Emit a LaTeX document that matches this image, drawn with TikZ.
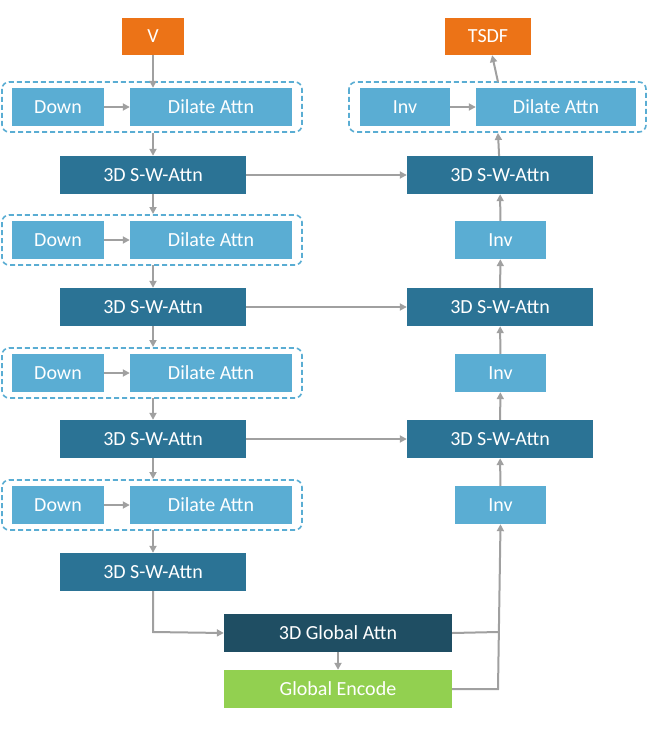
\documentclass[tikz,border=0pt]{standalone}
\usepackage{fontspec}
\setmainfont{Carlito}
\usetikzlibrary{arrows.meta,positioning}
\definecolor{org}{HTML}{EC7317}
\definecolor{lb}{HTML}{5AADD3}
\definecolor{dk}{HTML}{2B7395}
\definecolor{gd}{HTML}{1F4E63}
\definecolor{gr}{HTML}{92D050}
\definecolor{ar}{HTML}{A0A0A0}
\begin{document}
\begin{tikzpicture}[x=1pt,y=-1pt,
 bx/.style={draw=none,text=white,inner sep=0pt,font=\fontsize{20}{22}\selectfont},
 grp/.style={draw=lb,dashed,line width=1.6pt,rounded corners=7pt,dash pattern=on 5pt off 3pt},
 a/.style={draw=ar,line width=2pt,-{Triangle[length=7pt,width=7pt]}},
 l/.style={draw=ar,line width=2pt}]
\useasboundingbox (0,0) rectangle (654,733);
\newcommand{\bxat}[7]{\node[bx,fill=#6,minimum width=#3-#1,minimum height=#4-#2] (#5) at ({(#1+#3)/2},{(#2+#4)/2}) {#7};}
\bxat{122}{18}{184}{55}{V}{org}{V}
\bxat{445}{18}{531}{55}{T}{org}{TSDF}
% groups left
\foreach \i/\t in {1/88,2/221,3/354,4/486}{
 \draw[grp] (2,\t-6) rectangle (302,\t+44);
}
\bxat{12}{88}{104}{126}{d1}{lb}{Down}\bxat{130}{88}{292}{126}{a1}{lb}{Dilate Attn}
\bxat{12}{221}{104}{259}{d2}{lb}{Down}\bxat{130}{221}{292}{259}{a2}{lb}{Dilate Attn}
\bxat{12}{354}{104}{392}{d3}{lb}{Down}\bxat{130}{354}{292}{392}{a3}{lb}{Dilate Attn}
\bxat{12}{486}{104}{524}{d4}{lb}{Down}\bxat{130}{486}{292}{524}{a4}{lb}{Dilate Attn}
\bxat{60}{156}{246}{194}{s1}{dk}{3D S-W-Attn}
\bxat{60}{288}{246}{326}{s2}{dk}{3D S-W-Attn}
\bxat{60}{420}{246}{458}{s3}{dk}{3D S-W-Attn}
\bxat{60}{553}{246}{591}{s4}{dk}{3D S-W-Attn}
% right
\draw[grp] (349,82) rectangle (646,132);
\bxat{360}{88}{450}{126}{ri}{lb}{Inv}\bxat{476}{88}{636}{126}{ra}{lb}{Dilate Attn}
\bxat{407}{156}{593}{194}{r1}{dk}{3D S-W-Attn}
\bxat{407}{288}{593}{326}{r2}{dk}{3D S-W-Attn}
\bxat{407}{420}{593}{458}{r3}{dk}{3D S-W-Attn}
\bxat{455}{221}{546}{259}{i1}{lb}{Inv}
\bxat{455}{354}{546}{392}{i2}{lb}{Inv}
\bxat{455}{486}{546}{524}{i3}{lb}{Inv}
\bxat{224}{614}{452}{652}{ga}{gd}{3D Global Attn}
\bxat{224}{670}{452}{708}{ge}{gr}{Global Encode}
% arrows left column
\draw[a] (V) -- (V|-a1.north);
\draw[a] (d1) -- (a1); \draw[a] (d2) -- (a2); \draw[a] (d3) -- (a3); \draw[a] (d4) -- (a4);
\draw[a] (153,133) -- (s1.north);
\draw[a] (s1) -- (153,214);
\draw[a] (153,265) -- (s2.north);
\draw[a] (s2) -- (153,347);
\draw[a] (153,398) -- (s3.north);
\draw[a] (s3) -- (153,479);
\draw[a] (153,530) -- (s4.north);
\draw[a] (s4.south) -- (153,632) -- (ga.west);
\draw[a] (ga) -- (ge);
% skip connections
\draw[a] (s1) -- (r1); \draw[a] (s2) -- (r2); \draw[a] (s3) -- (r3);
% right column
\coordinate (j) at (498,632);
\draw[l] (ga.east) -- (j);
\draw[a] (ge.east) -- (498,689) -- (i3.south);
\draw[a] (i3) -- (r3); \draw[a] (r3) -- (i2); \draw[a] (i2) -- (r2);
\draw[a] (r2) -- (i1); \draw[a] (i1) -- (r1);
\draw[a] (r1) -- (498,133);
\draw[a] (ri) -- (ra);
\draw[a] (498,82) -- (T);
\end{tikzpicture}
\end{document}
